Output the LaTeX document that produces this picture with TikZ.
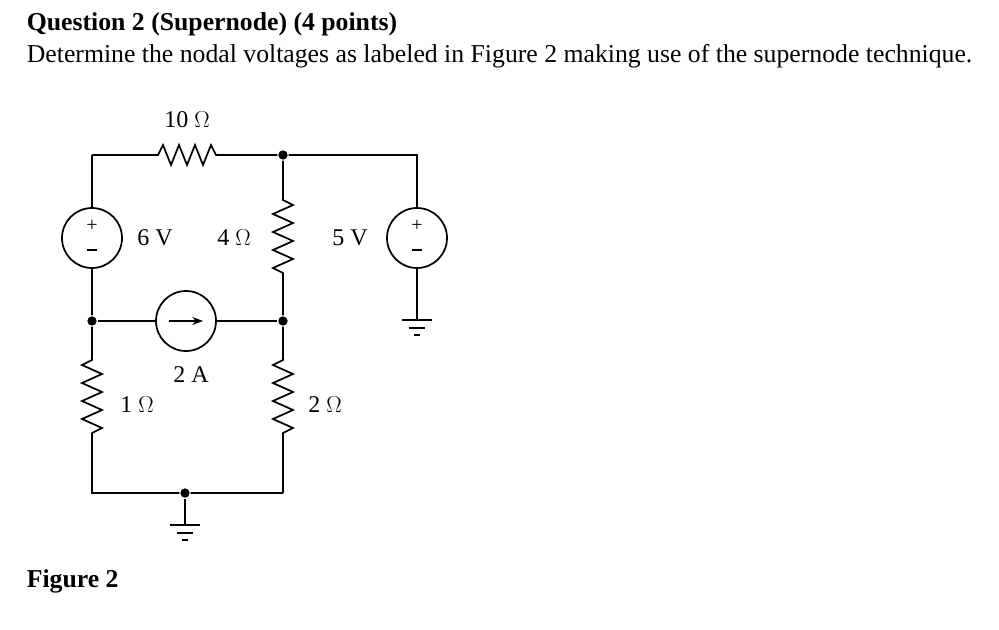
\documentclass[tikz,border=0pt]{standalone}
\usepackage{fontspec}
\setmainfont{Liberation Serif}
\usetikzlibrary{arrows.meta}
\begin{document}
\begin{tikzpicture}[x=0.75pt,y=-0.75pt,line width=1.3pt,
  dot/.style={circle,fill,inner sep=0pt,minimum size=7pt},
  src/.style={circle,draw,minimum size=45pt,inner sep=0pt},
  lbl/.style={font=\fontsize{18}{20}\selectfont,inner sep=0pt}]
\useasboundingbox (0,0) rectangle (999,629);
\node[anchor=base west,font=\bfseries\fontsize{19.3}{22}\selectfont,inner sep=0] at (26,30) {Question 2 (Supernode) (4 points)};
\node[anchor=base west,font=\fontsize{19.3}{22}\selectfont,inner sep=0] at (26,62) {Determine the nodal voltages as labeled in Figure 2 making use of the supernode technique.};
\node[anchor=base west,font=\bfseries\fontsize{19.3}{22}\selectfont,inner sep=0] at (26,587) {Figure 2};
\coordinate (tl) at (92,155); \coordinate (tr) at (417,155);
\node[dot] (n1) at (283,155) {};
\node[dot] (n2) at (92,321) {};
\node[dot] (n3) at (283,321) {};
\node[dot] (n4) at (185,493) {};
\coordinate (bl) at (92,493); \coordinate (br) at (283,493);
\node[src] (vs1) at (92,238) {};
\node[src] (vs2) at (417,238) {};
\node[src] (cs) at (186,321) {};
\draw (tl) -- (158,155) -- (163,145) -- (171,165) -- (179,145) -- (187,165) -- (195,145) -- (203,165) -- (211,145) -- (216,155) -- (n1) -- (tr) -- (vs2.north);
\draw (tl) -- (vs1.north);
\draw (vs1.south) -- (n2) -- (92,360) -- (82,365) -- (102,374) -- (82,383) -- (102,392) -- (82,401) -- (102,410) -- (82,419) -- (102,428) -- (92,433) -- (bl) -- (n4) -- (br);
\draw (n1) -- (283,200) -- (293,205) -- (273,214) -- (293,223) -- (273,232) -- (293,241) -- (273,250) -- (293,259) -- (273,268) -- (283,273) -- (n3);
\draw (n3) -- (283,360) -- (273,365) -- (293,374) -- (273,383) -- (293,392) -- (273,401) -- (293,410) -- (273,419) -- (293,428) -- (283,433) -- (br);
\draw (n2) -- (cs.west); \draw (cs.east) -- (n3);
\draw[-{Stealth[length=8pt]},line width=1pt] (169,321) -- (203,321);
\foreach \s in {vs1,vs2}{
  \node[font=\fontsize{15}{15}\selectfont,inner sep=0] at ([yshift=9pt]\s.center) {+};
  \draw[line width=0.8pt] ([xshift=-4pt,yshift=-9pt]\s.center) -- ([xshift=4pt,yshift=-9pt]\s.center);}
\draw (vs2.south) -- (417,320);
\draw (402,320) -- (432,320); \draw (409,328) -- (425,328); \draw (414,335) -- (420,335);
\draw (n4) -- (185,525);
\draw (170,525) -- (200,525); \draw (177,533) -- (193,533); \draw (182,540) -- (188,540);
\node[lbl] at (187,120) {10 $\Omega$};
\node[lbl] at (155,238) {6 V};
\node[lbl] at (234,238) {4 $\Omega$};
\node[lbl] at (350,238) {5 V};
\node[lbl] at (191,375) {2 A};
\node[lbl] at (137,405) {1 $\Omega$};
\node[lbl] at (325,405) {2 $\Omega$};
\end{tikzpicture}
\end{document}
